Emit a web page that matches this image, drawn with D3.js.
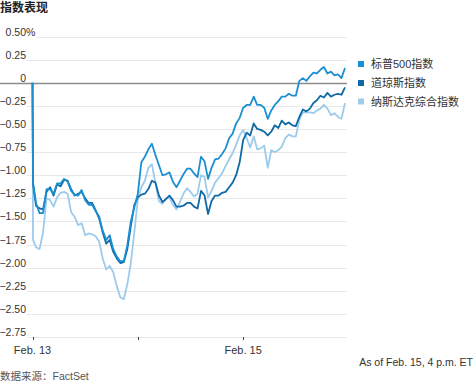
<!DOCTYPE html>
<html><head><meta charset="utf-8">
<script src="https://cdn.jsdelivr.net/npm/d3@7"></script>
<style>
html,body{margin:0;padding:0;background:#fff;}
svg{display:block;font-family:"Liberation Sans",Arial,"Noto Sans CJK SC",sans-serif;}
</style></head><body>
<svg id="chart" width="474" height="382"></svg>
<script>
// trading minutes since Feb 13 open (390 minutes per session)
const times = [0,2,13,26,39,52,65,78,91,104,117,130,143,156,169,182,195,208,221,234,247,260,273,286,299,312,325,338,351,364,377,
390,403,416,429,442,455,468,481,494,507,520,533,546,559,572,585,598,611,624,637,650,663,676,689,702,715,728,741,754,767,
780,793,806,819,832,845,858,871,884,897,910,923,936,949,962,975,988,1001,1014,1027,1040,1053,1066,1079,1092,1105,1118,1131,1144,1157];

const sp500 = [0,-1.08,-1.30,-1.41,-1.41,-1.15,-1.15,-1.20,-1.09,-1.09,-1.04,-1.07,-1.17,-1.21,-1.22,-1.16,-1.27,-1.32,-1.32,-1.39,-1.45,
-1.60,-1.70,-1.65,-1.80,-1.88,-1.93,-1.93,-1.76,-1.50,-1.35,
-1.20,-0.86,-0.80,-0.72,-0.66,-0.78,-0.89,-1.00,-0.99,-0.97,-1.07,-1.13,-1.06,-0.99,-0.93,-0.93,-0.98,-1.02,-0.80,-0.85,
-1.04,-0.92,-0.83,-0.82,-0.77,-0.71,-0.60,-0.55,-0.44,-0.38,
-0.27,-0.24,-0.24,-0.15,-0.24,-0.24,-0.27,-0.39,-0.30,-0.24,-0.20,-0.15,-0.15,-0.12,-0.14,-0.14,0.02,0.05,0.02,0.07,
0.11,0.10,0.14,0.17,0.10,0.12,0.08,0.09,0.05,0.16];

const dow = [0,-1.10,-1.33,-1.36,-1.37,-1.18,-1.13,-1.22,-1.10,-1.12,-1.05,-1.06,-1.15,-1.22,-1.20,-1.18,-1.25,-1.30,-1.30,-1.38,-1.47,
-1.62,-1.74,-1.70,-1.83,-1.90,-1.95,-1.94,-1.80,-1.55,-1.32,
-1.24,-1.21,-1.20,-1.15,-1.06,-1.08,-1.22,-1.29,-1.26,-1.22,-1.27,-1.34,-1.34,-1.33,-1.30,-1.30,-1.34,-1.36,-1.17,-1.22,
-1.42,-1.28,-1.22,-1.22,-1.19,-1.18,-1.13,-1.08,-1.00,-0.86,
-0.62,-0.54,-0.57,-0.44,-0.50,-0.51,-0.53,-0.57,-0.53,-0.46,-0.49,-0.41,-0.45,-0.43,-0.46,-0.47,-0.37,-0.29,-0.31,-0.28,
-0.22,-0.19,-0.14,-0.16,-0.11,-0.15,-0.13,-0.12,-0.13,-0.05];

const nasdaq = [0,-1.70,-1.78,-1.80,-1.62,-1.25,-1.27,-1.34,-1.24,-1.19,-1.18,-1.20,-1.40,-1.45,-1.54,-1.52,-1.65,-1.63,-1.64,-1.66,-1.72,
-1.90,-2.02,-1.98,-2.05,-2.20,-2.32,-2.34,-2.18,-1.95,-1.62,
-1.26,-1.13,-1.06,-0.92,-0.88,-1.08,-1.28,-1.31,-1.25,-1.24,-1.32,-1.37,-1.29,-1.20,-1.14,-1.18,-1.23,-1.20,-1.00,-1.02,
-1.24,-1.17,-1.08,-1.03,-0.98,-0.90,-0.83,-0.76,-0.67,-0.57,
-0.51,-0.60,-0.70,-0.58,-0.72,-0.71,-0.68,-0.92,-0.73,-0.75,-0.73,-0.69,-0.60,-0.56,-0.58,-0.58,-0.40,-0.32,-0.32,-0.32,
-0.33,-0.30,-0.28,-0.24,-0.28,-0.35,-0.33,-0.37,-0.39,-0.22];

const seriesNames = ["标普500指数","道琼斯指数","纳斯达克综合指数"];
const seriesColors = ["#1b8fd2","#0f6aa6","#9ccbec"];
const yTicks = [0.5,0.25,0,-0.25,-0.5,-0.75,-1,-1.25,-1.5,-1.75,-2,-2.25,-2.5,-2.75];
const xTicks = [0,390,780];
const xTickLabels = ["Feb. 13","","Feb. 15"];
const title = "指数表现";
const source = "数据来源：FactSet";
const note = "As of Feb. 15, 4 p.m. ET";

const svg = d3.select("#chart");
const x = d3.scaleLinear().domain([0,1170]).range([32.5,348.5]);
const y = d3.scaleLinear().domain([-2.75,0.5]).range([337,36.5]);

// title
svg.append("text").attr("x",0).attr("y",11.5).attr("font-size",12).attr("font-weight","bold")
  .attr("fill","#222").text(title);

// y labels + grid
const LX = 26;
const grid = svg.append("g");
const yl = svg.append("g");
yTicks.forEach(d=>{
  const yy = Math.round(y(d));
  const t = yl.append("text").attr("x",LX).attr("y",yy-1.5).attr("text-anchor","end")
    .attr("font-size",10.5).attr("fill","#333").text(d===0 ? "0" : d3.format(".2f")(d));
  let right = LX;
  if (d===0.5) {
    const p = yl.append("text").attr("x",LX).attr("y",yy-1.5).attr("font-size",10.5).attr("fill","#333").text("%");
    right = LX + p.node().getComputedTextLength();
  }
  grid.append("line")
    .attr("x1", d===0 ? 0 : right+1).attr("x2",347)
    .attr("y1",yy+0.5).attr("y2",yy+0.5)
    .attr("stroke",d===0?"#8c8c8c":"#e8e8e8")
    .attr("stroke-width",d===0?1.5:1);
});

// x axis ticks
const xa = svg.append("g");
xa.selectAll("line").data(xTicks).join("line")
  .attr("x1",d=>Math.round(x(d))+0.5).attr("x2",d=>Math.round(x(d))+0.5)
  .attr("y1",337).attr("y2",340).attr("stroke","#444").attr("stroke-width",1);
xa.selectAll("text").data(xTicks).join("text")
  .attr("x",d=>x(d)).attr("y",354).attr("text-anchor","middle").attr("font-size",11).attr("fill","#333")
  .text((d,i)=>xTickLabels[i]);

// lines
const data = [sp500,dow,nasdaq];
const line = d3.line().x((d,i)=>x(times[i])).y(d=>y(d)).curve(d3.curveLinear);
[2,1,0].forEach(s=>{
  svg.append("path").datum(data[s]).attr("d",line).attr("fill","none")
    .attr("stroke",seriesColors[s]).attr("stroke-width",1.8).attr("stroke-linejoin","round");
});

// legend
const legY = [64,83,101.5];
seriesNames.forEach((n,i)=>{
  svg.append("rect").attr("x",358).attr("y",legY[i]-3).attr("width",6).attr("height",6).attr("fill",seriesColors[i]);
  svg.append("text").attr("x",371).attr("y",legY[i]+4).attr("font-size",11).attr("fill","#333").text(n);
});

// notes
svg.append("text").attr("x",473).attr("y",366).attr("text-anchor","end").attr("font-size",10.5).attr("fill","#333").text(note);
svg.append("text").attr("x",0).attr("y",380).attr("font-size",10.5).attr("fill","#555").text(source);
</script>
</body></html>
